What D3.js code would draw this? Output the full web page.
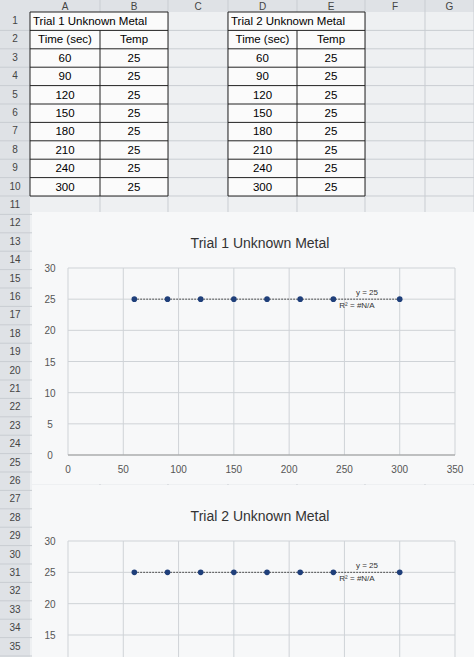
<!DOCTYPE html><html><head><meta charset="utf-8">
<script src="https://cdn.jsdelivr.net/npm/d3@7"></script>
<style>body{margin:0;background:#e9ecef;font-family:"Liberation Sans",Arial,sans-serif}</style></head><body>
<svg id="c" width="474" height="657"></svg>
<script>
const times=[60,90,120,150,180,210,240,300];
const trial1Temp=[25,25,25,25,25,25,25,25];
const trial2Temp=[25,25,25,25,25,25,25,25];
const colLetters=["A","B","C","D","E","F","G"];
const xTicks=[0,50,100,150,200,250,300,350];
const yTicks=[0,5,10,15,20,25,30];

const svg=d3.select("#c");
const colEdges=[30,100,168,228,297,365,425,474];
const rowH=18.4, row0=12;
const rowY=i=>row0+(i-1)*rowH;
svg.append("rect").attr("width",474).attr("height",657).attr("fill","#eef0f2");
svg.append("rect").attr("x",0).attr("y",0).attr("width",474).attr("height",12).attr("fill","#dfe2e6");
svg.append("rect").attr("x",0).attr("y",0).attr("width",30).attr("height",657).attr("fill","#dfe2e6");
colLetters.forEach((l,i)=>{
  svg.append("text").attr("x",(colEdges[i]+colEdges[i+1])/2).attr("y",10).attr("text-anchor","middle").attr("font-size",10).attr("fill","#444").text(l);
  svg.append("line").attr("x1",colEdges[i+1]).attr("x2",colEdges[i+1]).attr("y1",0).attr("y2",657).attr("stroke","#c9cdd2");
});
for(let r=1;r<=35;r++){
  svg.append("text").attr("x",15).attr("y",rowY(r)+12).attr("text-anchor","middle").attr("font-size",10).attr("fill","#444").text(r);
  svg.append("line").attr("x1",0).attr("x2",474).attr("y1",rowY(r+1)).attr("y2",rowY(r+1)).attr("stroke","#c9cdd2");
}
function table(x0,x1,x2,title,temps){
  const g=svg.append("g");
  g.append("rect").attr("x",x0).attr("y",rowY(1)).attr("width",x2-x0).attr("height",rowH*10).attr("fill","#fbfbfb");
  g.append("text").attr("x",x0+3).attr("y",rowY(1)+13).attr("font-size",11.5).text(title);
  g.append("text").attr("x",(x0+x1)/2).attr("y",rowY(2)+13).attr("text-anchor","middle").attr("font-size",11.5).text("Time (sec)");
  g.append("text").attr("x",(x1+x2)/2).attr("y",rowY(2)+13).attr("text-anchor","middle").attr("font-size",11.5).text("Temp");
  times.forEach((t,i)=>{
    g.append("text").attr("x",(x0+x1)/2).attr("y",rowY(i+3)+13).attr("text-anchor","middle").attr("font-size",11.5).text(t);
    g.append("text").attr("x",(x1+x2)/2).attr("y",rowY(i+3)+13).attr("text-anchor","middle").attr("font-size",11.5).text(temps[i]);
  });
  for(let r=1;r<=11;r++) g.append("line").attr("x1",x0).attr("x2",x2).attr("y1",rowY(r)).attr("y2",rowY(r)).attr("stroke","#222");
  [x0,x2].forEach(x=>g.append("line").attr("x1",x).attr("x2",x).attr("y1",rowY(1)).attr("y2",rowY(11)).attr("stroke","#222"));
  g.append("line").attr("x1",x1).attr("x2",x1).attr("y1",rowY(2)).attr("y2",rowY(11)).attr("stroke","#222");
}
table(30,100,168,"Trial 1 Unknown Metal",trial1Temp);
table(228,297,365,"Trial 2 Unknown Metal",trial2Temp);

function chart(top,bottom,title,temps,zeroY){
  const g=svg.append("g");
  g.append("rect").attr("x",32).attr("y",top).attr("width",442).attr("height",bottom-top).attr("fill","#f7f8f9");
  const x=d3.scaleLinear().domain([0,350]).range([68,455]);
  const y=d3.scaleLinear().domain([0,30]).range([zeroY,top+(zeroY>600?0:0)+56]);
  g.append("text").attr("x",260).attr("y",top+36).attr("text-anchor","middle").attr("font-size",14).attr("fill","#333").text(title);
  yTicks.forEach(v=>{ if(y(v)<bottom-4){
    g.append("line").attr("x1",68).attr("x2",455).attr("y1",y(v)).attr("y2",y(v)).attr("stroke","#cfd3d7");
    g.append("text").attr("x",50).attr("y",y(v)+4).attr("text-anchor","middle").attr("font-size",10).attr("fill","#555").text(v);}});
  xTicks.forEach(v=>g.append("line").attr("x1",x(v)).attr("x2",x(v)).attr("y1",y(30)).attr("y2",Math.min(y(0),bottom)).attr("stroke","#cfd3d7"));
  if(y(0)<bottom){
    g.append("line").attr("x1",68).attr("x2",455).attr("y1",y(0)).attr("y2",y(0)).attr("stroke","#999");
    xTicks.forEach(v=>g.append("text").attr("x",x(v)).attr("y",y(0)+18).attr("text-anchor","middle").attr("font-size",10).attr("fill","#555").text(v));
  }
  g.append("line").attr("x1",x(times[0])).attr("x2",x(times[times.length-1])).attr("y1",y(25)).attr("y2",y(25)).attr("stroke","#333").attr("stroke-dasharray","1.5,1.5");
  g.selectAll("circle.p").data(times).join("circle").attr("cx",(d)=>x(d)).attr("cy",(d,i)=>y(temps[i])).attr("r",2.8).attr("fill","#1f3f7a");
  g.append("text").attr("x",367).attr("y",y(25)-4).attr("text-anchor","middle").attr("font-size",8).attr("fill","#333").text("y = 25");
  g.append("text").attr("x",357).attr("y",y(25)+9).attr("text-anchor","middle").attr("font-size",8).attr("fill","#333").text("R² = #N/A");
}
chart(212,484,"Trial 1 Unknown Metal",trial1Temp,455);
chart(485,657,"Trial 2 Unknown Metal",trial2Temp,729);
</script></body></html>
